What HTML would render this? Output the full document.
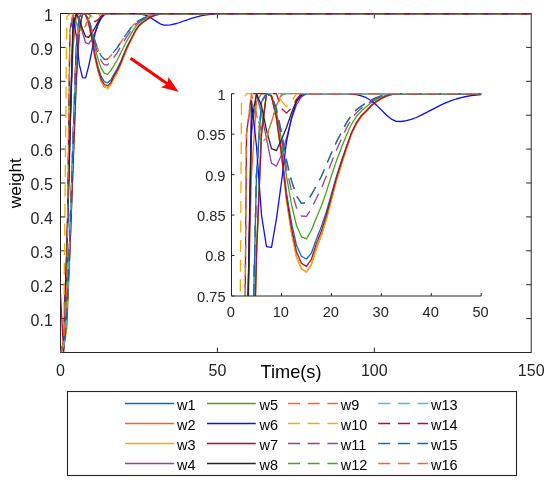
<!DOCTYPE html><html><head><meta charset="utf-8"><style>html,body{margin:0;padding:0;background:#fff;}svg{display:block;}</style></head><body>
<svg width="550" height="484" viewBox="0 0 550 484" font-family="'Liberation Sans', Arial, Helvetica, sans-serif">
<rect x="0" y="0" width="550" height="484" fill="#fff"/>
<defs>
<clipPath id="cm"><rect x="60.5" y="13.5" width="470.70000000000005" height="339.0"/></clipPath>
<clipPath id="ci"><rect x="231.5" y="92.7" width="250.7" height="203.3"/></clipPath>
</defs>
<g stroke="#262626" stroke-width="1" fill="none">
<line x1="60.5" y1="318.60" x2="65.5" y2="318.60"/>
<line x1="531.2" y1="318.60" x2="526.2" y2="318.60"/>
<line x1="60.5" y1="284.70" x2="65.5" y2="284.70"/>
<line x1="531.2" y1="284.70" x2="526.2" y2="284.70"/>
<line x1="60.5" y1="250.80" x2="65.5" y2="250.80"/>
<line x1="531.2" y1="250.80" x2="526.2" y2="250.80"/>
<line x1="60.5" y1="216.90" x2="65.5" y2="216.90"/>
<line x1="531.2" y1="216.90" x2="526.2" y2="216.90"/>
<line x1="60.5" y1="183.00" x2="65.5" y2="183.00"/>
<line x1="531.2" y1="183.00" x2="526.2" y2="183.00"/>
<line x1="60.5" y1="149.10" x2="65.5" y2="149.10"/>
<line x1="531.2" y1="149.10" x2="526.2" y2="149.10"/>
<line x1="60.5" y1="115.20" x2="65.5" y2="115.20"/>
<line x1="531.2" y1="115.20" x2="526.2" y2="115.20"/>
<line x1="60.5" y1="81.30" x2="65.5" y2="81.30"/>
<line x1="531.2" y1="81.30" x2="526.2" y2="81.30"/>
<line x1="60.5" y1="47.40" x2="65.5" y2="47.40"/>
<line x1="531.2" y1="47.40" x2="526.2" y2="47.40"/>
<line x1="217.40" y1="352.5" x2="217.40" y2="347.5"/>
<line x1="217.40" y1="13.5" x2="217.40" y2="18.5"/>
<line x1="374.30" y1="352.5" x2="374.30" y2="347.5"/>
<line x1="374.30" y1="13.5" x2="374.30" y2="18.5"/>
<rect x="60.5" y="13.5" width="470.70" height="339.0"/>
</g>
<g clip-path="url(#cm)" fill="none" stroke-width="1.30" stroke-linejoin="round">
<path d="M60.5,352.5 63.6,345.7 66.8,318.6 69.9,233.8 76.2,47.4 79.3,16.9 82.5,13.5 85.6,14.5 88.7,23.0 91.9,37.3 95.0,54.7 98.2,67.4 101.3,76.9 104.4,81.6 107.6,82.8 110.7,80.3 113.8,74.3 117.0,69.1 120.1,62.9 126.4,48.1 129.5,41.7 135.8,29.9 139.0,25.6 142.1,22.7 148.4,18.5 151.5,16.8 154.6,15.5 157.8,14.5 160.9,13.9 164.1,13.5 167.2,13.5 531.2,13.5" stroke="#0072BD"/>
<path d="M60.5,352.5 63.6,342.3 66.8,250.8 69.9,132.2 73.1,47.4 76.2,16.9 79.3,13.5 82.5,13.5 85.6,14.5 88.7,23.7 91.9,39.1 95.0,57.8 98.2,71.5 101.3,81.7 104.4,86.8 107.6,88.2 110.7,85.1 113.8,78.3 117.0,72.8 120.1,66.0 126.4,50.0 129.5,43.2 135.8,30.6 139.0,26.1 142.1,23.0 145.2,21.0 148.4,18.6 151.5,16.9 154.6,15.5 157.8,14.5 160.9,13.8 164.1,13.5 531.2,13.5" stroke="#F5642A"/>
<path d="M60.5,352.5 63.6,349.1 66.8,328.8 69.9,250.8 76.2,81.3 79.3,30.4 82.5,13.5 85.6,14.5 88.7,23.7 91.9,39.1 95.0,57.8 98.2,71.5 101.3,81.7 104.4,86.8 107.6,88.2 110.7,85.1 113.8,78.3 117.0,72.8 120.1,66.0 126.4,50.0 129.5,43.2 135.8,30.6 139.0,26.1 142.1,23.0 145.2,21.0 148.4,18.6 151.5,16.9 154.6,15.5 157.8,14.5 160.9,13.8 164.1,13.5 531.2,13.5" stroke="#F5AA00"/>
<path d="M60.5,352.5 63.6,342.3 66.8,247.4 69.9,128.8 73.1,30.4 76.2,13.5 79.3,22.0 85.6,42.7 88.7,43.8 91.9,39.3 95.0,32.1 98.2,24.3 101.3,18.2 104.4,14.9 107.6,13.5 531.2,13.5" stroke="#9540A0"/>
<path d="M60.5,352.5 63.6,349.1 66.8,325.4 69.9,250.8 76.2,77.9 79.3,28.8 82.5,13.5 85.6,14.2 88.7,20.8 91.9,32.7 95.0,47.8 98.2,59.7 101.3,68.6 104.4,73.4 107.6,74.3 110.7,70.7 117.0,60.5 126.4,41.7 132.7,30.9 135.8,26.3 139.0,23.0 142.1,20.8 148.4,17.2 151.5,15.9 154.6,14.9 157.8,14.1 160.9,13.7 164.1,13.5 531.2,13.5" stroke="#4AA416"/>
<path d="M60.5,352.5 63.6,345.7 66.8,257.6 69.9,142.3 73.1,16.6 76.2,35.5 79.3,64.4 82.5,77.6 85.6,77.9 88.7,66.0 91.9,50.8 95.0,33.8 98.2,23.7 101.3,16.9 104.4,14.2 107.6,13.5 132.7,13.5 139.0,13.9 142.1,14.4 145.2,15.2 148.4,16.4 151.5,18.2 157.8,22.4 160.9,24.2 164.1,25.1 167.2,25.1 170.3,24.8 176.6,23.5 192.3,18.2 201.7,15.7 208.0,14.7 220.5,13.5 531.2,13.5" stroke="#0D0DFF"/>
<path d="M60.5,293.5 63.6,352.5 66.8,311.8 69.9,250.8 76.2,81.3 79.3,30.4 82.5,13.5 85.6,14.5 88.7,23.4 91.9,38.3 95.0,56.4 98.2,69.7 101.3,79.6 104.4,84.5 107.6,85.8 110.7,82.9 113.8,76.3 117.0,71.0 120.1,64.4 126.4,48.8 129.5,42.2 135.8,30.0 139.0,25.7 142.1,22.7 145.2,20.8 148.4,18.5 151.5,16.8 154.6,15.5 157.8,14.5 160.9,13.8 164.1,13.5 531.2,13.5" stroke="#B80A2A"/>
<path d="M60.5,352.5 63.6,342.3 66.8,250.8 69.9,132.2 73.1,25.4 76.2,13.5 79.3,18.6 82.5,28.8 85.6,36.6 88.7,37.4 91.9,32.8 95.0,27.7 98.2,21.6 101.3,16.6 104.4,13.5 531.2,13.5" stroke="#262626"/>
<path d="M60.5,352.5 63.6,345.7 66.8,318.6 76.2,47.4 79.3,16.9 82.5,13.5 85.6,14.1 88.7,19.9 91.9,29.5 95.0,41.3 98.2,49.8 101.3,56.2 104.4,59.4 107.6,59.1 110.7,55.8 117.0,48.1 123.3,38.3 126.4,33.8 132.7,25.7 135.8,22.5 139.0,20.3 145.2,17.3 148.4,16.1 151.5,15.1 157.8,13.9 164.1,13.5 531.2,13.5" stroke="#F5642A" stroke-dasharray="12,7.6"/>
<path d="M60.5,352.5 63.6,345.7 66.8,16.9 69.9,13.5 88.7,13.5 91.9,16.6 95.0,18.9 98.2,16.9 101.3,13.5 531.2,13.5" stroke="#F5AA00" stroke-dasharray="12,7.6"/>
<path d="M60.5,352.5 63.6,345.7 66.8,315.2 76.2,47.4 79.3,16.9 82.5,13.5 85.6,14.2 88.7,20.7 91.9,31.4 95.0,44.5 98.2,54.0 101.3,61.2 104.4,64.8 107.6,64.8 110.7,61.7 117.0,53.1 126.4,37.1 132.7,28.0 135.8,24.2 139.0,21.5 142.1,19.6 148.4,16.6 154.6,14.6 160.9,13.6 164.1,13.5 531.2,13.5" stroke="#9540A0" stroke-dasharray="12,7.6"/>
<path d="M60.5,352.5 63.6,342.3 66.8,284.7 69.9,30.4 73.1,16.9 76.2,22.0 79.3,29.4 82.5,31.1 85.6,25.4 88.7,18.6 91.9,14.2 95.0,13.5 531.2,13.5" stroke="#4AA416" stroke-dasharray="12,7.6" stroke-dashoffset="11.82"/>
<path d="M60.5,352.5 63.6,345.7 66.8,318.6 69.9,233.8 76.2,47.4 79.3,16.9 82.5,13.5 531.2,13.5" stroke="#3EBDEE" stroke-dasharray="12,7.6" stroke-dashoffset="17.51"/>
<path d="M60.5,352.5 63.6,342.3 66.8,284.7 69.9,30.4 73.1,13.5 88.7,13.5 91.9,19.6 95.0,21.6 98.2,19.6 101.3,15.9 104.4,13.5 531.2,13.5" stroke="#B80A2A" stroke-dasharray="12,7.6" stroke-dashoffset="7.39"/>
<path d="M60.5,352.5 63.6,345.7 66.8,318.6 69.9,233.8 76.2,47.4 79.3,16.9 82.5,13.5 85.6,14.1 88.7,19.9 91.9,29.5 95.0,41.3 98.2,49.8 101.3,56.2 104.4,59.4 107.6,59.1 110.7,55.8 117.0,48.1 123.3,38.3 126.4,33.8 132.7,25.7 135.8,22.5 139.0,20.3 145.2,17.3 148.4,16.1 151.5,15.1 157.8,13.9 164.1,13.5 531.2,13.5" stroke="#0072BD" stroke-dasharray="12,7.6" stroke-dashoffset="5.91"/>
<path d="M60.5,352.5 63.6,342.3 66.8,284.7 69.9,30.4 73.1,13.5 76.2,22.0 79.3,33.8 82.5,32.1 88.7,18.6 91.9,13.8 95.0,13.5 531.2,13.5" stroke="#F5642A" stroke-dasharray="12,7.6" stroke-dashoffset="2.58"/>
</g>
<line x1="60.5" y1="13.5" x2="531.20" y2="13.5" stroke="#262626" stroke-width="1" opacity="0.5"/>
<g font-size="16" fill="#262626" text-anchor="end">
<text x="52.8" y="325.90">0.1</text>
<text x="52.8" y="292.00">0.2</text>
<text x="52.8" y="258.10">0.3</text>
<text x="52.8" y="224.20">0.4</text>
<text x="52.8" y="190.30">0.5</text>
<text x="52.8" y="156.40">0.6</text>
<text x="52.8" y="122.50">0.7</text>
<text x="52.8" y="88.60">0.8</text>
<text x="52.8" y="54.70">0.9</text>
<text x="52.8" y="20.80">1</text>
</g>
<g font-size="16" fill="#262626" text-anchor="middle">
<text x="60.50" y="375.6">0</text>
<text x="217.40" y="375.6">50</text>
<text x="374.30" y="375.6">100</text>
<text x="531.20" y="375.6">150</text>
</g>
<text x="291" y="378.3" font-size="18.2" fill="#000" text-anchor="middle">Time(s)</text>
<text transform="translate(21.3,183.2) rotate(-90)" font-size="17.4" fill="#000" text-anchor="middle">weight</text>
<rect x="231.5" y="93.7" width="249.70" height="202.30" fill="#fff"/>
<g clip-path="url(#ci)" fill="none" stroke-width="1.30" stroke-linejoin="round">
<path d="M253.7,296.0 256.5,174.6 261.5,101.8 266.5,93.7 271.5,96.0 276.4,116.4 281.4,150.4 286.4,192.0 291.4,222.3 296.4,245.0 301.4,256.3 306.4,259.0 311.4,253.2 316.4,238.9 321.4,226.5 326.4,211.7 336.4,176.4 341.4,161.0 346.4,146.6 351.4,132.9 356.4,122.7 361.3,115.6 366.3,110.8 371.3,105.6 376.3,101.6 381.3,98.5 386.3,96.2 391.3,94.6 396.3,93.8 481.2,93.7" stroke="#0072BD"/>
<path d="M248.5,296.0 251.5,174.6 256.5,101.8 261.5,93.7 266.5,93.7 271.5,96.1 276.4,118.1 281.4,154.8 286.4,199.5 291.4,232.1 296.4,256.5 301.4,268.7 306.4,272.0 311.4,264.6 316.4,248.4 321.4,235.3 326.4,219.1 336.4,180.8 341.4,164.5 346.4,149.1 351.4,134.4 356.4,123.8 361.3,116.5 366.3,111.6 371.3,105.9 376.3,101.8 381.3,98.6 386.3,96.1 391.3,94.5 396.3,93.7 481.2,93.7" stroke="#F5642A"/>
<path d="M255.5,296.0 256.5,255.5 261.5,134.2 266.5,93.7 271.5,96.1 276.4,118.1 281.4,154.8 286.4,199.5 291.4,232.1 296.4,256.5 301.4,268.7 306.4,272.0 311.4,264.6 316.4,248.4 321.4,235.3 326.4,219.1 336.4,180.8 341.4,164.5 346.4,149.1 351.4,134.4 356.4,123.8 361.3,116.5 366.3,111.6 371.3,105.9 376.3,101.8 381.3,98.6 386.3,96.1 391.3,94.5 396.3,93.7 481.2,93.7" stroke="#F5AA00"/>
<path d="M248.0,296.0 251.5,134.2 256.5,93.7 261.5,113.9 271.5,163.3 276.4,166.1 281.4,155.2 286.4,138.2 291.4,119.6 296.4,105.0 301.4,96.9 306.4,93.7 481.2,93.7" stroke="#9540A0"/>
<path d="M255.3,296.0 256.5,247.4 261.5,130.1 266.5,93.7 271.5,95.4 276.4,111.2 281.4,139.6 286.4,175.6 291.4,204.0 296.4,225.2 301.4,236.8 306.4,238.9 311.4,230.2 316.4,217.7 321.4,206.0 326.4,191.6 331.4,175.7 336.4,160.9 341.4,147.7 346.4,135.2 351.4,124.3 356.4,116.5 361.3,111.1 371.3,102.6 376.3,99.5 381.3,97.0 386.3,95.2 391.3,94.1 396.3,93.7 481.2,93.7" stroke="#4AA416"/>
<path d="M248.2,296.0 251.5,101.0 256.5,146.3 261.5,215.1 266.5,246.6 271.5,247.4 276.4,219.1 281.4,182.7 286.4,142.3 291.4,118.0 296.4,101.8 301.4,95.3 306.4,93.7 346.4,93.7 356.4,94.7 361.3,95.8 366.3,97.7 371.3,100.7 376.3,104.9 386.3,115.0 391.3,119.1 396.3,121.4 401.3,121.5 406.3,120.7 411.3,119.4 416.3,117.5 421.3,115.2 441.2,104.9 446.2,102.6 451.2,100.7 456.2,99.0 461.2,97.6 466.2,96.5 471.2,95.7 481.2,94.6" stroke="#0D0DFF"/>
<path d="M255.5,296.0 256.5,255.5 261.5,134.2 266.5,93.7 271.5,96.1 276.4,117.4 281.4,152.8 286.4,196.2 291.4,227.7 296.4,251.4 301.4,263.2 306.4,266.4 311.4,259.3 316.4,243.5 321.4,230.9 326.4,215.1 336.4,178.1 341.4,162.3 346.4,147.3 351.4,133.1 356.4,122.9 361.3,115.8 366.3,111.0 371.3,105.5 376.3,101.6 381.3,98.4 386.3,96.1 391.3,94.5 396.3,93.7 481.2,93.7" stroke="#B80A2A"/>
<path d="M248.1,296.0 251.5,122.0 256.5,93.7 261.5,105.8 266.5,130.1 271.5,148.7 276.4,150.7 281.4,139.8 286.4,127.7 291.4,113.1 296.4,101.0 301.4,93.7 481.2,93.7" stroke="#262626"/>
<path d="M253.7,296.0 256.5,174.6 261.5,101.8 266.5,93.7 271.5,95.2 276.4,109.0 281.4,131.9 286.4,160.0 291.4,180.4 296.4,195.7 301.4,203.3 306.4,202.6 311.4,194.7 321.4,176.3 331.4,153.0 336.4,142.1 346.4,122.9 351.4,115.2 356.4,109.8 361.3,106.1 366.3,102.8 371.3,99.8 376.3,97.6 381.3,95.8 386.3,94.6 391.3,93.9 396.3,93.7 481.2,93.7" stroke="#F5642A" stroke-dasharray="12,7.6"/>
<path d="M240.3,296.0 241.5,101.8 246.5,93.7 276.4,93.7 281.4,101.0 286.4,106.6 291.4,101.8 296.4,93.7 481.2,93.7" stroke="#F5AA00" stroke-dasharray="12,7.6" stroke-dashoffset="14.91"/>
<path d="M253.7,296.0 256.5,174.6 261.5,101.8 266.5,93.7 271.5,95.4 276.4,110.8 281.4,136.4 286.4,167.7 291.4,190.4 296.4,207.5 301.4,216.0 306.4,216.3 311.4,208.6 321.4,188.2 326.4,175.9 331.4,162.4 336.4,150.0 346.4,128.3 351.4,119.2 356.4,112.7 361.3,108.3 371.3,101.1 376.3,98.5 381.3,96.4 386.3,95.0 391.3,94.0 396.3,93.7 481.2,93.7" stroke="#9540A0" stroke-dasharray="12,7.6"/>
<path d="M245.2,296.0 246.5,134.2 251.5,101.8 256.5,113.9 261.5,131.7 266.5,135.8 271.5,122.0 276.4,105.8 281.4,95.3 286.4,93.7 481.2,93.7" stroke="#4AA416" stroke-dasharray="12,7.6"/>
<path d="M253.7,296.0 256.5,174.6 261.5,101.8 266.5,93.7 481.2,93.7" stroke="#3EBDEE" stroke-dasharray="12,7.6"/>
<path d="M245.2,296.0 246.5,134.2 251.5,93.7 276.4,93.7 281.4,108.3 286.4,113.1 291.4,108.3 296.4,99.4 301.4,93.7 481.2,93.7" stroke="#B80A2A" stroke-dasharray="12,7.6" stroke-dashoffset="11.11"/>
<path d="M253.7,296.0 256.5,174.6 261.5,101.8 266.5,93.7 271.5,95.2 276.4,109.0 281.4,131.9 286.4,160.0 291.4,180.4 296.4,195.7 301.4,203.3 306.4,202.6 311.4,194.7 321.4,176.3 331.4,153.0 336.4,142.1 346.4,122.9 351.4,115.2 356.4,109.8 361.3,106.1 366.3,102.8 371.3,99.8 376.3,97.6 381.3,95.8 386.3,94.6 391.3,93.9 396.3,93.7 481.2,93.7" stroke="#0072BD" stroke-dasharray="12,7.6"/>
<path d="M245.2,296.0 246.5,134.2 251.5,93.7 256.5,113.9 261.5,142.3 266.5,138.2 276.4,105.8 281.4,94.5 286.4,93.7 481.2,93.7" stroke="#F5642A" stroke-dasharray="12,7.6"/>
</g>
<g stroke="#262626" stroke-width="1" fill="none">
<path d="M231.5,93.7 L231.5,296.0 L481.20,296.0"/>
<line x1="231.5" y1="296.00" x2="234.5" y2="296.00"/>
<line x1="231.5" y1="255.54" x2="234.5" y2="255.54"/>
<line x1="231.5" y1="215.08" x2="234.5" y2="215.08"/>
<line x1="231.5" y1="174.62" x2="234.5" y2="174.62"/>
<line x1="231.5" y1="134.16" x2="234.5" y2="134.16"/>
<line x1="231.5" y1="93.70" x2="234.5" y2="93.70"/>
<line x1="231.50" y1="296.0" x2="231.50" y2="293.0"/>
<line x1="281.44" y1="296.0" x2="281.44" y2="293.0"/>
<line x1="331.38" y1="296.0" x2="331.38" y2="293.0"/>
<line x1="381.32" y1="296.0" x2="381.32" y2="293.0"/>
<line x1="431.26" y1="296.0" x2="431.26" y2="293.0"/>
<line x1="481.20" y1="296.0" x2="481.20" y2="293.0"/>
</g>
<g font-size="14.6" fill="#262626" text-anchor="end">
<text x="225.50" y="301.90">0.75</text>
<text x="225.50" y="261.44">0.8</text>
<text x="225.50" y="220.98">0.85</text>
<text x="225.50" y="180.52">0.9</text>
<text x="225.50" y="140.06">0.95</text>
<text x="225.50" y="99.60">1</text>
</g>
<g font-size="14.6" fill="#262626" text-anchor="middle">
<text x="230.90" y="316.6">0</text>
<text x="280.84" y="316.6">10</text>
<text x="330.78" y="316.6">20</text>
<text x="380.72" y="316.6">30</text>
<text x="430.66" y="316.6">40</text>
<text x="480.60" y="316.6">50</text>
</g>
<g stroke="#ff0000" fill="#ff0000">
<line x1="130.6" y1="58.2" x2="169.5" y2="85.3" stroke-width="3.0"/>
<polygon points="178.6,91.7 168.4,77.0 167.6,84.0 160.9,87.3" stroke="none"/>
</g>
<rect x="67.5" y="391.5" width="449.0" height="84.0" fill="#fff" stroke="#262626" stroke-width="1.1"/>
<line x1="125.0" y1="403.5" x2="174.2" y2="403.5" stroke="#0072BD" stroke-width="1.3"/>
<text x="177.0" y="409.70" font-size="14.5" fill="#000">w1</text>
<line x1="125.0" y1="423.5" x2="174.2" y2="423.5" stroke="#F5642A" stroke-width="1.3"/>
<text x="177.0" y="429.70" font-size="14.5" fill="#000">w2</text>
<line x1="125.0" y1="443.5" x2="174.2" y2="443.5" stroke="#F5AA00" stroke-width="1.3"/>
<text x="177.0" y="449.70" font-size="14.5" fill="#000">w3</text>
<line x1="125.0" y1="463.5" x2="174.2" y2="463.5" stroke="#9540A0" stroke-width="1.3"/>
<text x="177.0" y="469.70" font-size="14.5" fill="#000">w4</text>
<line x1="207.0" y1="403.5" x2="255.8" y2="403.5" stroke="#4AA416" stroke-width="1.3"/>
<text x="259.6" y="409.70" font-size="14.5" fill="#000">w5</text>
<line x1="207.0" y1="423.5" x2="255.8" y2="423.5" stroke="#0D0DFF" stroke-width="1.3"/>
<text x="259.6" y="429.70" font-size="14.5" fill="#000">w6</text>
<line x1="207.0" y1="443.5" x2="255.8" y2="443.5" stroke="#B80A2A" stroke-width="1.3"/>
<text x="259.6" y="449.70" font-size="14.5" fill="#000">w7</text>
<line x1="207.0" y1="463.5" x2="255.8" y2="463.5" stroke="#262626" stroke-width="1.3"/>
<text x="259.6" y="469.70" font-size="14.5" fill="#000">w8</text>
<line x1="288.0" y1="403.5" x2="337.8" y2="403.5" stroke="#F5642A" stroke-width="1.3" stroke-dasharray="12,7.7"/>
<text x="340.8" y="409.70" font-size="14.5" fill="#000">w9</text>
<line x1="288.0" y1="423.5" x2="337.8" y2="423.5" stroke="#F5AA00" stroke-width="1.3" stroke-dasharray="12,7.7"/>
<text x="340.8" y="429.70" font-size="14.5" fill="#000">w10</text>
<line x1="288.0" y1="443.5" x2="337.8" y2="443.5" stroke="#9540A0" stroke-width="1.3" stroke-dasharray="12,7.7"/>
<text x="340.8" y="449.70" font-size="14.5" fill="#000">w11</text>
<line x1="288.0" y1="463.5" x2="337.8" y2="463.5" stroke="#4AA416" stroke-width="1.3" stroke-dasharray="12,7.7"/>
<text x="340.8" y="469.70" font-size="14.5" fill="#000">w12</text>
<line x1="378.2" y1="403.5" x2="428.0" y2="403.5" stroke="#3EBDEE" stroke-width="1.3" stroke-dasharray="12,7.7"/>
<text x="431.0" y="409.70" font-size="14.5" fill="#000">w13</text>
<line x1="378.2" y1="423.5" x2="428.0" y2="423.5" stroke="#B80A2A" stroke-width="1.3" stroke-dasharray="12,7.7"/>
<text x="431.0" y="429.70" font-size="14.5" fill="#000">w14</text>
<line x1="378.2" y1="443.5" x2="428.0" y2="443.5" stroke="#0072BD" stroke-width="1.3" stroke-dasharray="12,7.7"/>
<text x="431.0" y="449.70" font-size="14.5" fill="#000">w15</text>
<line x1="378.2" y1="463.5" x2="428.0" y2="463.5" stroke="#F5642A" stroke-width="1.3" stroke-dasharray="12,7.7"/>
<text x="431.0" y="469.70" font-size="14.5" fill="#000">w16</text>
</svg></body></html>
